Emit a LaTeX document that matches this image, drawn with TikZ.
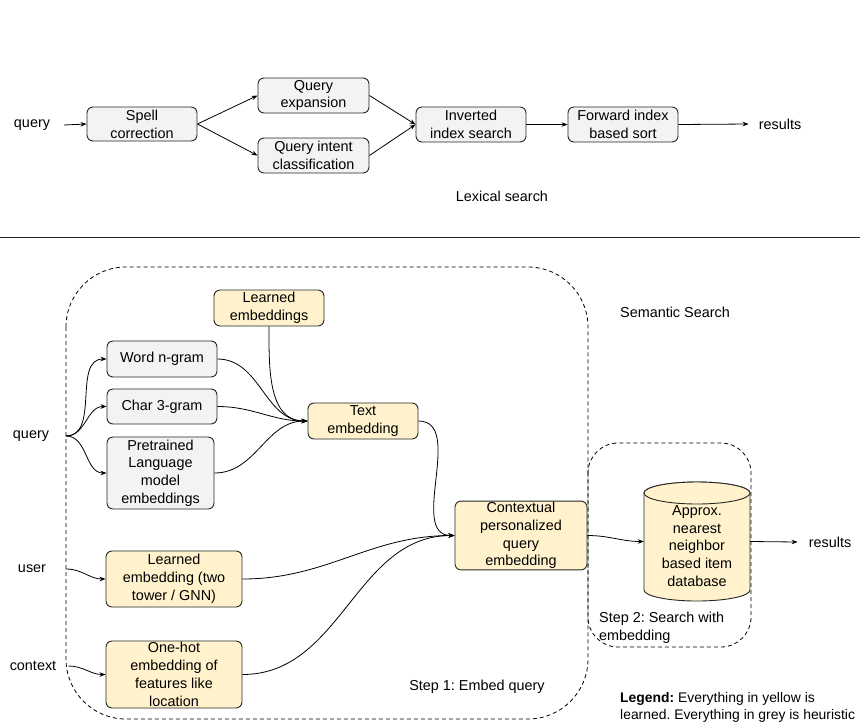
\documentclass[tikz,border=0pt]{standalone}
\usepackage{fontspec}
\setmainfont{Liberation Sans}
\usetikzlibrary{arrows.meta}
\definecolor{greyfill}{RGB}{243,243,243}
\definecolor{yelfill}{RGB}{255,242,204}
\frenchspacing
\begin{document}
\begin{tikzpicture}[x=1pt,y=1pt,
 font=\fontsize{14.4}{17.8}\selectfont,
 box/.style={draw=black!85, line width=0.9pt, rounded corners=6pt, align=center, inner sep=1pt},
 greybox/.style={box, fill=greyfill},
 yelbox/.style={box, fill=yelfill},
 arr/.style={-{Stealth[length=6pt,width=4.5pt]}, line width=0.8pt},
 lbl/.style={inner sep=0pt, align=left},
 dashedbox/.style={draw, line width=0.8pt, dash pattern=on 4pt off 3pt}]
\useasboundingbox (0,0) rectangle (860,-724);

% ---------- Lexical search ----------
\node[lbl] (lq) at (32,-125) {query};
\node[greybox, minimum width=110, minimum height=34] (spell) at (142,-124) {Spell\\correction};
\node[greybox, minimum width=111, minimum height=35] (qexp) at (313.5,-95.5) {Query\\expansion};
\node[greybox, minimum width=111, minimum height=35] (qint) at (313.5,-155.5) {Query intent\\classification};
\node[greybox, minimum width=110, minimum height=35] (inv) at (471,-124.5) {Inverted\\index search};
\node[greybox, minimum width=110, minimum height=35] (fwd) at (623,-124.5) {Forward index\\based sort};
\node[lbl] (lres) at (780,-124) {results};
\node[lbl] (lex) at (502,-196) {Lexical search};

\draw[arr] ([xshift=14pt]lq.east) -- (spell.west);
\draw[arr] (spell.east) -- (qexp.west);
\draw[arr] (spell.east) -- (qint.west);
\draw[arr] (qexp.east) -- (inv.west);
\draw[arr] (qint.east) -- (inv.west);
\draw[arr] (inv.east) -- (fwd.west);
\draw[arr] (fwd.east) -- ([xshift=-10pt]lres.west);

\draw[line width=1pt, black!85] (0,-237) -- (860,-237);

% ---------- Semantic search ----------
\draw[dashedbox, rounded corners=60pt] (66,-267) rectangle (588,-719);
\draw[dashedbox, rounded corners=30pt] (588,-443) rectangle (751,-647);

\node[lbl] (semlbl) at (675,-312) {Semantic Search};
\node[yelbox, minimum width=110, minimum height=36] (learned) at (269,-308) {Learned\\embeddings};
\node[greybox, minimum width=110, minimum height=36] (wng) at (162,-359) {Word n-gram};
\node[greybox, minimum width=110, minimum height=35] (c3g) at (162,-406.5) {Char 3-gram};
\node[greybox, minimum width=107, minimum height=72] (plm) at (160.5,-473) {Pretrained\\Language\\model\\embeddings};
\node[yelbox, minimum width=110, minimum height=36] (temb) at (363,-421) {Text\\embedding};
\node[lbl] (sq) at (31,-436) {query};
\coordinate (qj) at (66,-436);
\node[yelbox, minimum width=132, minimum height=67] (cqe) at (521,-535.5) {Contextual\\personalized\\query\\embedding};

% cylinder
\node[minimum width=106, minimum height=119, inner sep=0pt] (cyl) at (697,-541.5) {};
\draw[line width=0.9pt, draw=black!85, fill=yelfill] (644,-493) -- (644,-590)
  arc[start angle=180, end angle=360, x radius=53, y radius=11] -- (750,-493)
  arc[start angle=0, end angle=180, x radius=53, y radius=11] -- cycle;
\draw[line width=0.9pt, draw=black!85, fill=yelfill] (697,-493) ellipse[x radius=53, y radius=11];
\node[inner sep=0pt, align=center] (ann) at (697,-546) {Approx.\\nearest\\neighbor\\based item\\database};
\node[lbl] (sres) at (830,-542) {results};

\node[lbl, anchor=north west] (step2) at (599,-612) {Step 2: Search with\\embedding};

\node[lbl] (user) at (32,-569) {user};
\node[yelbox, minimum width=136, minimum height=56] (uemb) at (174,-579) {Learned\\embedding (two\\tower / GNN)};
\node[lbl] (ctx) at (33,-666) {context};
\node[yelbox, minimum width=136, minimum height=67] (onehot) at (174,-674.5) {One-hot\\embedding of\\features like\\location};
\node[lbl] (step1) at (477,-687) {Step 1: Embed query};
\node[lbl, anchor=west, font=\fontsize{13.9}{17}\selectfont] (legend) at (620,-707.5) {\textbf{Legend:} Everything in yellow is\\learned. Everything in grey is heuristic};

\draw[arr] (qj) to[out=0,in=180] (wng.west);
\draw[arr] (qj) to[out=0,in=180] (c3g.west);
\draw[arr] (qj) to[out=0,in=180] (plm.west);
\draw[arr] (wng.east) to[out=0,in=180] (temb.west);
\draw[arr] (c3g.east) to[out=0,in=180] (temb.west);
\draw[arr] (plm.east) to[out=0,in=180] (temb.west);
\draw[arr] (learned.south) to[out=-90,in=180] (temb.west);
\draw[arr] (temb.east) to[out=0,in=180] (cqe.west);
\draw[arr] ([xshift=20pt]user.east) to[out=0,in=180] (uemb.west);
\draw[arr] ([xshift=12pt]ctx.east) to[out=0,in=180] (onehot.west);
\draw[arr] (uemb.east) to[out=0,in=180] (cqe.west);
\draw[arr] (onehot.east) to[out=0,in=180] (cqe.west);
\draw[arr] (cqe.east) to[out=0,in=180] (cyl.west);
\draw[arr] (cyl.east) -- ([xshift=-11pt]sres.west);
\end{tikzpicture}
\end{document}
